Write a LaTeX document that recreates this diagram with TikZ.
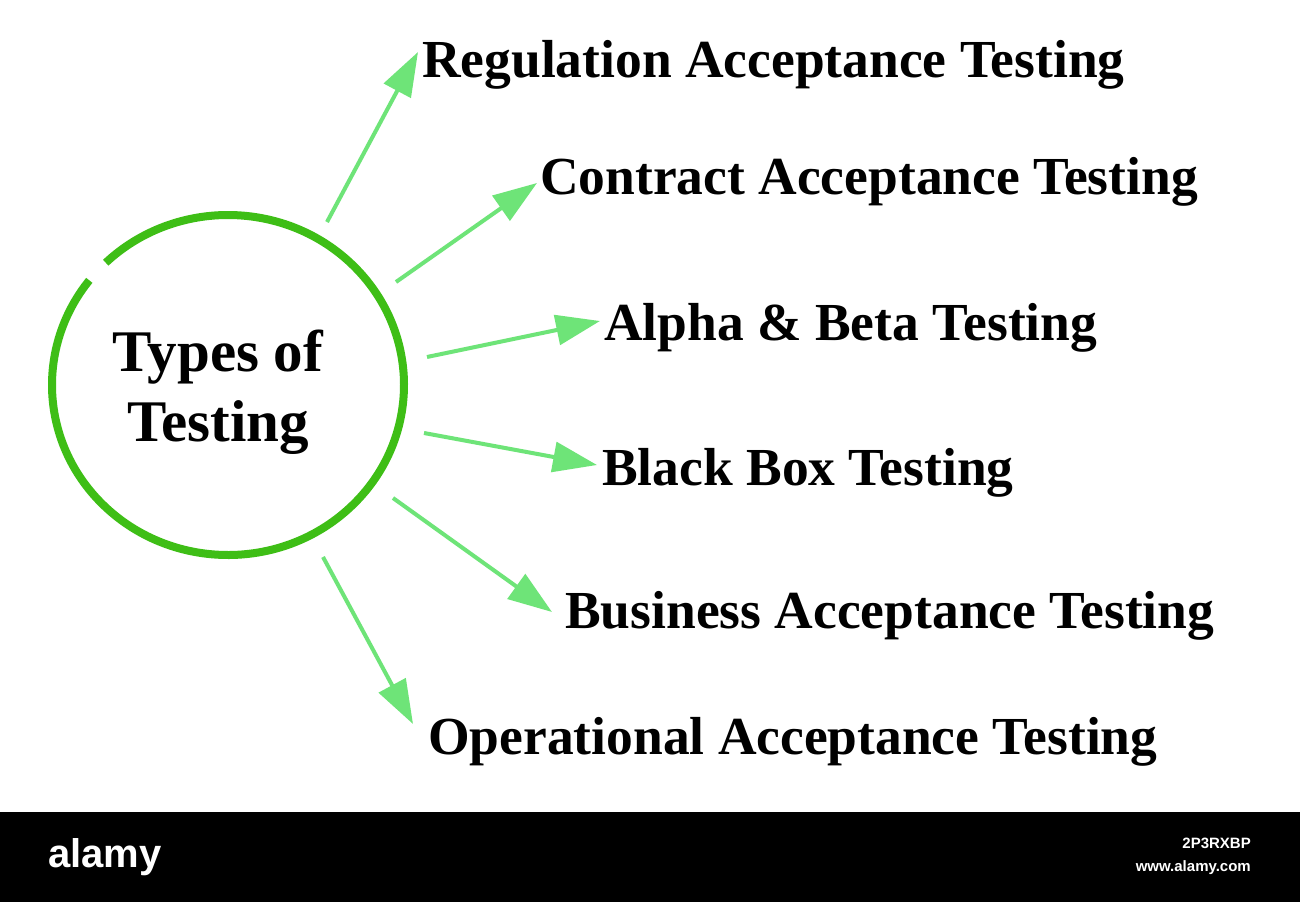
\documentclass[tikz,border=0pt]{standalone}
\usepackage{fontspec}
\setmainfont{Liberation Serif}
\newfontfamily\sansf{Liberation Sans}
\usetikzlibrary{arrows.meta}
\definecolor{ringg}{RGB}{62,190,22}
\definecolor{arrg}{RGB}{110,228,120}
\tikzset{
 lab/.style={anchor=base west,inner sep=0pt,font=\bfseries\fontsize{53.5}{56}\selectfont},
 arr/.style={draw=arrg,line width=4pt,-{Triangle[length=44pt,width=30pt,fill=arrg]}}
}
\begin{document}
\begin{tikzpicture}[x=1pt,y=-1pt]
\useasboundingbox (0,0) rectangle (1300,902);
\fill[white] (0,0) rectangle (1300,812);
\fill[black] (0,812) rectangle (1300,902);
% ring
\draw[ringg,line width=8pt] (228,385) ++(-134:176 and 170) arc[start angle=-134,end angle=218,x radius=176,y radius=170];
\node[align=center,font=\bfseries\fontsize{59}{70}\selectfont,inner sep=0pt] (c) at (218,392) {Types of\\Testing};
\coordinate (s1) at (327,222); \coordinate (e1) at (418,52);
\coordinate (s2) at (396,282); \coordinate (e2) at (537,183);
\coordinate (s3) at (427,357); \coordinate (e3) at (600,321);
\coordinate (s4) at (424,433); \coordinate (e4) at (597,465);
\coordinate (s5) at (393,498); \coordinate (e5) at (552,612);
\coordinate (s6) at (323,557); \coordinate (e6) at (413,724);
\foreach \i in {1,...,6}{\draw[arr] (s\i) -- (e\i);}
\node[lab] (t1) at (422,77) {Regulation Acceptance Testing};
\node[lab] (t2) at (540,194) {Contract Acceptance Testing};
\node[lab] (t3) at (604,340) {Alpha \& Beta Testing};
\node[lab] (t4) at (602,485) {Black Box Testing};
\node[lab] (t5) at (565,628) {Business Acceptance Testing};
\node[lab] (t6) at (428,754) {Operational Acceptance Testing};
\node[anchor=west,text=white,font=\sansf\bfseries\fontsize{40}{44}\selectfont,inner sep=0pt] (al) at (48,857) {alamy};
\node[anchor=east,text=white,font=\sansf\bfseries\fontsize{15}{18}\selectfont,inner sep=0pt] (id) at (1251,843) {2P3RXBP};
\node[anchor=east,text=white,font=\sansf\bfseries\fontsize{15}{18}\selectfont,inner sep=0pt] (ww) at (1251,868) {www.alamy.com};
\end{tikzpicture}
\end{document}
